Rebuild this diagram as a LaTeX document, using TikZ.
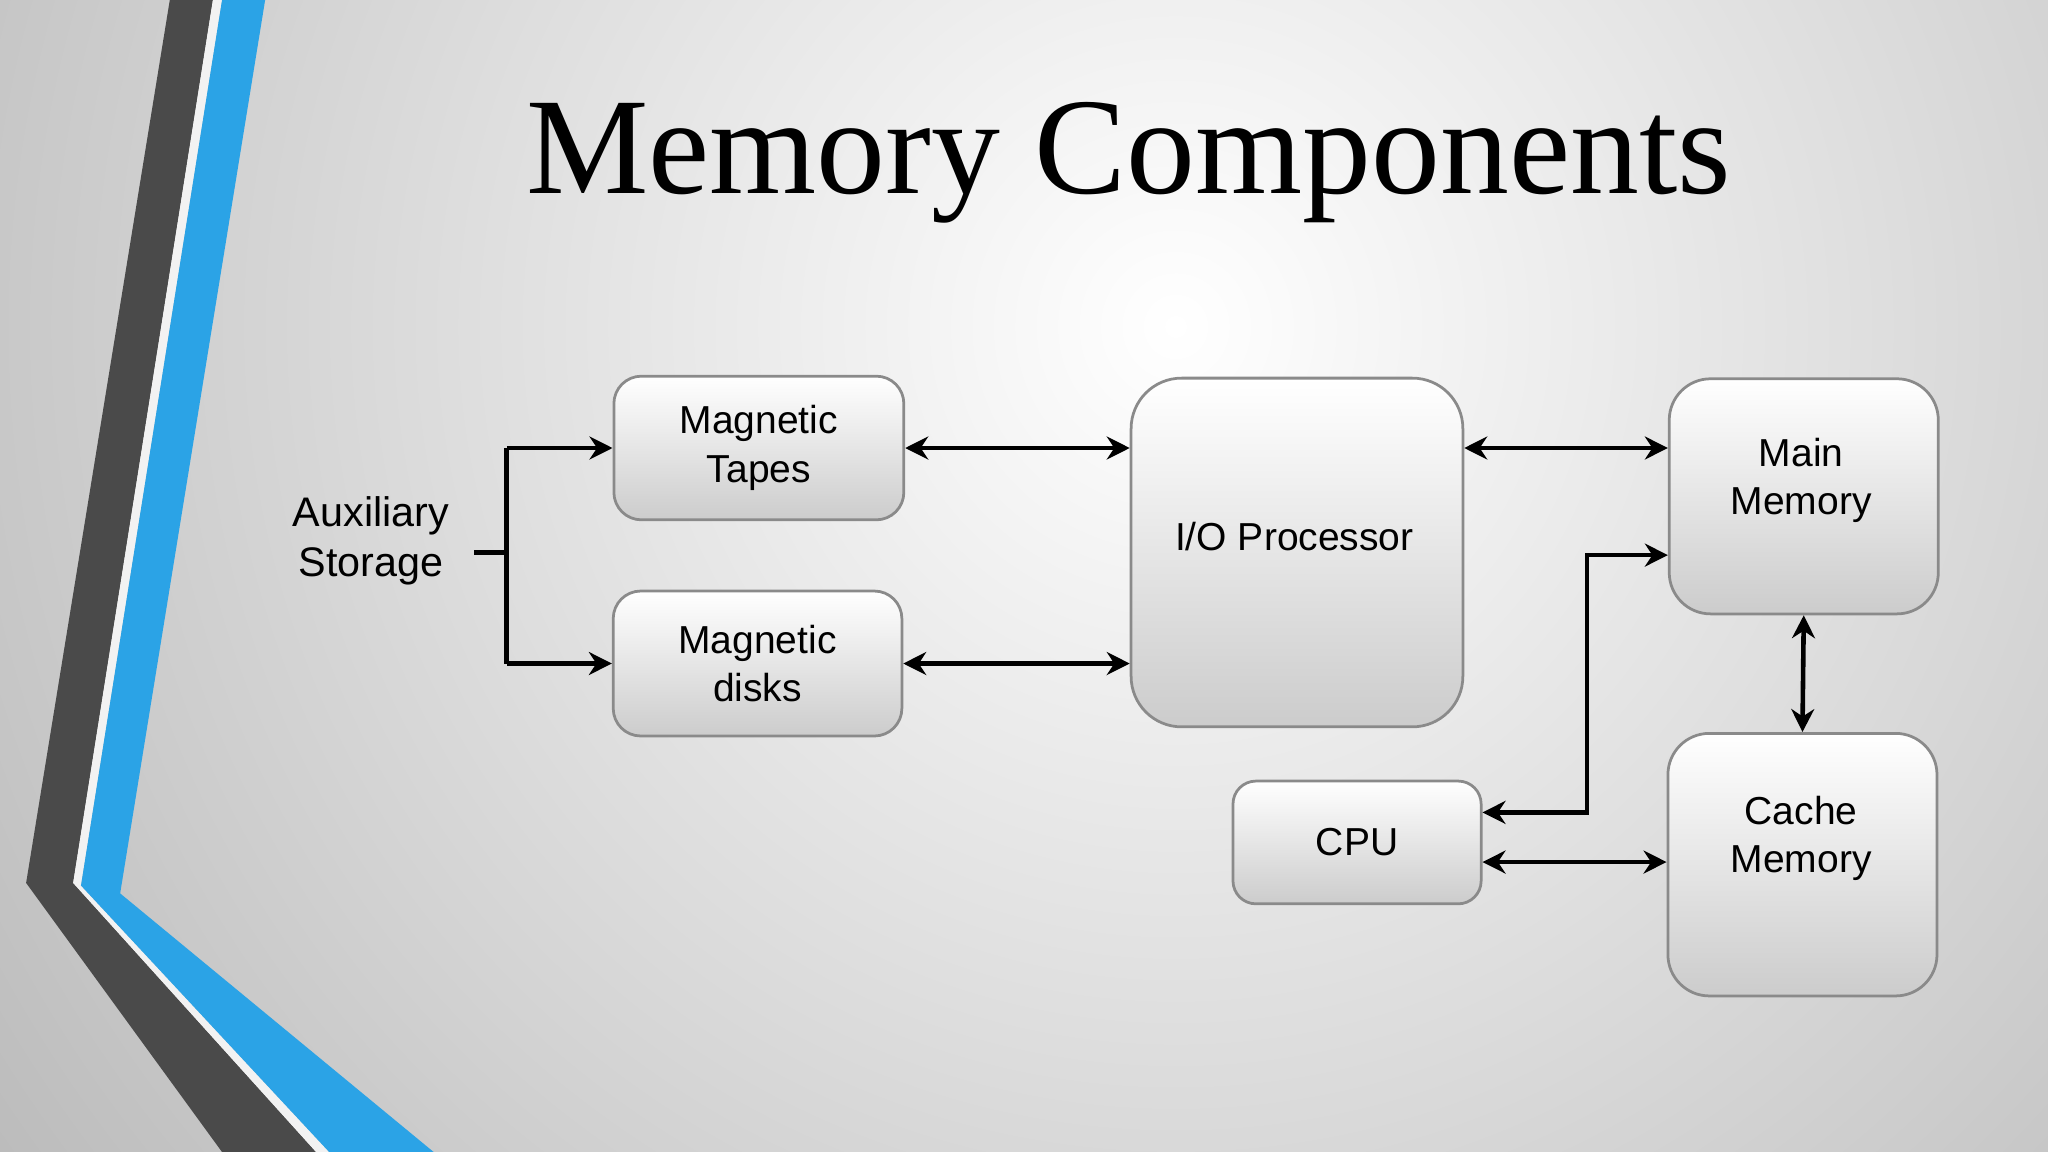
\documentclass[tikz,border=0pt]{standalone}
\usepackage{fontspec}
\setmainfont{Liberation Sans}
\newfontfamily\titlefont{Liberation Serif}
\usetikzlibrary{arrows.meta}
\definecolor{bluebar}{HTML}{2BA3E6}
\definecolor{darkbar}{HTML}{4A4A4A}
\definecolor{boxborder}{HTML}{8A8A8A}
\tikzset{
  box/.style={draw=boxborder, line width=1.2pt, rounded corners=12pt, top color=white, bottom color=gray!40, align=center, font=\fontsize{17}{21}\selectfont, inner sep=0pt},
  lbl/.style={align=center, font=\fontsize{17}{21}\selectfont, inner sep=0pt},
  conn/.style={line width=2pt, black, {Stealth[length=10pt,width=10pt]}-{Stealth[length=10pt,width=10pt]}},
  oneway/.style={line width=2pt, black, -{Stealth[length=10pt,width=10pt]}},
  plain/.style={line width=2pt, black}
}
\begin{document}
\begin{tikzpicture}[x=0.02cm,y=-0.02cm]
\useasboundingbox (0,0) rectangle (1568,882);
\begin{scope}
\clip (0,0) rectangle (1568,882);
\shade[inner color=white, outer color=gray!55] (900,250) circle (1150);
\end{scope}
% left bars
\fill[darkbar] (130,0) -- (163,0) -- (56,676) -- (242,882) -- (170,882) -- (20,676) -- cycle;
\fill[white!90!gray] (163,0) -- (170,0) -- (62,678) -- (252,882) -- (242,882) -- (56,676) -- cycle;
\fill[bluebar] (170,0) -- (203,0) -- (92,684) -- (332,882) -- (252,882) -- (62,678) -- cycle;
% title
\node[font=\titlefont\fontsize{60}{66}\selectfont] (title) at (864,125) {Memory Components};
% boxes
\node[box, minimum width=222*0.02cm, minimum height=110*0.02cm] (tapes) at (581,343) {Magnetic\\Tapes};
\node[box, minimum width=221*0.02cm, minimum height=111*0.02cm] (disks) at (580,508) {Magnetic\\disks};
\node[box, minimum width=254*0.02cm, minimum height=267*0.02cm, rounded corners=22pt] (io) at (993,423) {};
\node[lbl] (iot) at (991,411) {I/O Processor};
\node[box, minimum width=206*0.02cm, minimum height=180*0.02cm, rounded corners=18pt] (main) at (1381,380) {};
\node[lbl] (maint) at (1379,368) {Main\\Memory};
\node[box, minimum width=206*0.02cm, minimum height=201*0.02cm, rounded corners=18pt] (cache) at (1380,662) {};
\node[lbl] (cachet) at (1379,642) {Cache\\Memory};
\node[box, minimum width=190*0.02cm, minimum height=94*0.02cm, rounded corners=10pt] (cpu) at (1039,645) {CPU};
\node[align=center, font=\fontsize{18}{22}\selectfont] (aux) at (284,414) {Auxiliary\\Storage};
% connectors
\coordinate (j) at (388,423);
\coordinate (jt) at (388,343);
\coordinate (jd) at (388,508);
\draw[plain] (363,423) -- (j);
\draw[plain] (jt) -- (jd);
\draw[oneway] (jt) -- (tapes.west|-jt);
\draw[oneway] (jd) -- (disks.west|-jd);
\draw[conn] (tapes.east|-jt) -- (io.west|-jt);
\draw[conn] (disks.east|-jd) -- (io.west|-jd);
\draw[conn] (io.east|-jt) -- (main.west|-jt);
\draw[conn] (main.south) -- (cache.north);
\draw[conn] (cpu.east|-0,660) -- (cache.west|-0,660);
\coordinate (k1) at (1215,622);
\coordinate (k2) at (1215,425);
\draw[conn] (cpu.east|-k1) -- (k1) -- (k2) -- (main.west|-k2);
\end{tikzpicture}
\end{document}
